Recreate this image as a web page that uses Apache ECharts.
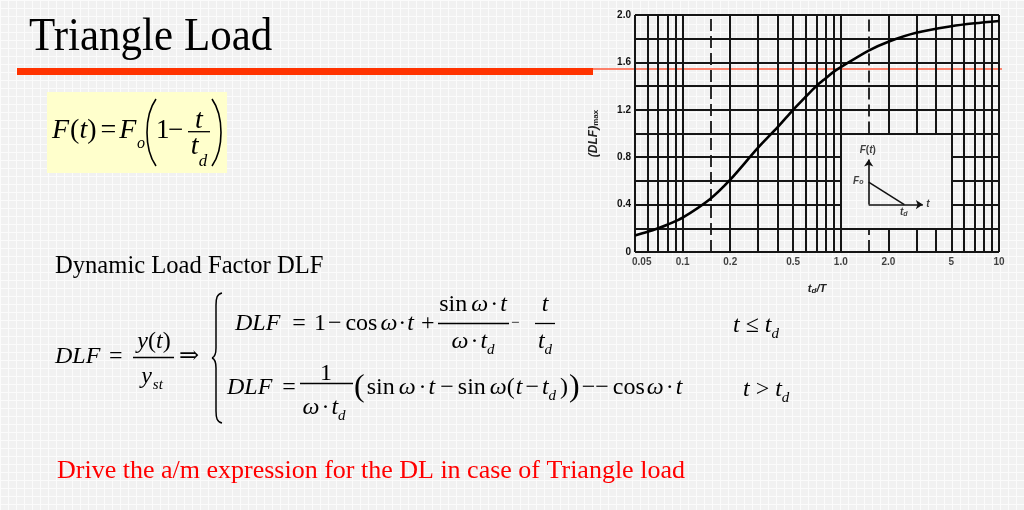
<!DOCTYPE html>
<html><head><meta charset="utf-8">
<script src="https://cdn.jsdelivr.net/npm/echarts@6/dist/echarts.min.js"></script>
<style>
html,body{margin:0;padding:0;}
body{width:1024px;height:510px;overflow:hidden;background-color:#f1f1f1;
background-image:linear-gradient(#fbfbfb 1px,transparent 1px),linear-gradient(90deg,#fbfbfb 1px,transparent 1px);background-size:8px 8px;}
#c{width:1024px;height:510px;}
</style></head><body><div id="c"></div>
<script>
// ---------- data ----------
const tdOverT = [0.05,0.06,0.07,0.08,0.1,0.15,0.2,0.3,0.4,0.5,0.6,0.7,0.8,0.9,1.0,1.5,2,3,5,7,10];
const dlfMax  = [0.14,0.17,0.20,0.23,0.29,0.45,0.61,0.88,1.055,1.20,1.31,1.40,1.465,1.52,1.56,1.70,1.775,1.85,1.905,1.93,1.95];
const xTickValues = [0.05,0.1,0.2,0.5,1,2,5,10];
const xTickLabels = ['0.05','0.1','0.2','0.5','1.0','2.0','5','10'];
const yTickValues = [0,0.4,0.8,1.2,1.6,2.0];
const yTickLabels = ['0','0.4','0.8','1.2','1.6','2.0'];
const gridLinesX = [0.05,0.06,0.07,0.08,0.09,0.1,0.2,0.3,0.4,0.5,0.6,0.7,0.8,0.9,1,2,3,4,5,6,7,8,9,10];
const dashedLinesX = [0.15,1.5];
const gridLinesY = [0,0.2,0.4,0.6,0.8,1.0,1.2,1.4,1.6,1.8,2.0];
const insetBox = {x0:1, x1:5, y0:0.2, y1:1.0};
const insetAxes = [[[1.5,0.4],[1.5,0.78]],[[1.5,0.4],[3.3,0.4]]];
const insetLoad = [[1.5,0.59],[2.52,0.4]];
const insetLabelText = ['{i|F}{r|(}{i|t}{r|)}','{i|F}{s|o}','{i|t}','{i|t}{s|d}'];
const insetLabelPos = [[1.48,0.86],[1.29,0.6],[3.55,0.4],[2.5,0.335]];
const X_MIN = 0.05, X_MAX = 10, Y_MIN = 0, Y_MAX = 2;

// ---------- slide text layout helpers ----------
const SERIF = '"Liberation Serif","Times New Roman","DejaVu Serif",serif';
const mctx = document.createElement('canvas').getContext('2d');
function fnt(kind, size){
  const it = (kind==='i'||kind==='s');
  const sz = kind==='s' ? Math.round(size*0.62) : kind==='L' ? Math.round(size*1.35) : size;
  return (it?'italic ':'') + sz + 'px ' + SERIF;
}
const G = [];
function put(tokens, x, y, size, opt){
  opt = opt||{};
  let w = 0; const items = [];
  tokens.forEach(tk => {
    if (typeof tk === 'number'){ w += tk; return; }
    const t = tk[0], kind = tk[1]; const css = fnt(kind, size);
    mctx.font = css; const tw = mctx.measureText(t).width;
    items.push({t, dx:w, dy: kind==='s' ? (opt.subDy!=null ? opt.subDy : size*0.34) : 0, css});
    w += tw;
  });
  const x0 = opt.align==='center' ? x - w/2 : x;
  items.forEach(it => G.push({type:'text', x:x0+it.dx, y:y+it.dy, z:2, silent:true, scaleY:opt.scaleY||1,
    style:{text:it.t, font:it.css, fill:opt.color||'#000', textAlign:'left', textVerticalAlign:'middle'}}));
}
function bar(x1,x2,y){ G.push({type:'line', z:2, silent:true, shape:{x1,y1:y,x2,y2:y}, style:{stroke:'#000', lineWidth:1.3}}); }
function seg(x1,y1,x2,y2,w){ G.push({type:'line', z:2, silent:true, shape:{x1,y1,x2,y2}, style:{stroke:'#000', lineWidth:w||1.6}}); }
function curve(x1,y1,c1x,c1y,c2x,c2y,x2,y2,w){ G.push({type:'bezierCurve', z:2, silent:true,
  shape:{x1,y1,cpx1:c1x,cpy1:c1y,cpx2:c2x,cpy2:c2y,x2,y2}, style:{stroke:'#000', lineWidth:w||1.6, fill:null}}); }

// title + red rule
put([['Triangle Load','r']], 29, 38.3, 43, {scaleY:1.06});
G.push({type:'rect', z:0, silent:true, shape:{x:17,y:68,width:576,height:7}, style:{fill:'#ff3300'}});
G.push({type:'line', z:0, silent:true, shape:{x1:593,y1:69,x2:999,y2:69}, style:{stroke:'#ff5a3c', lineWidth:1.4}});
G.push({type:'line', z:0, silent:true, shape:{x1:999,y1:69,x2:1004,y2:69}, style:{stroke:'#ff5a3c', lineWidth:1.4, lineDash:[3,2]}});

// F(t) box
G.push({type:'rect', z:1, silent:true, shape:{x:47,y:92,width:180,height:81}, style:{fill:'#ffffcc'}});
put([['F','i'],1,['(','r'],['t','i'],[')','r'],4,['=','r'],3,['F','i']], 52, 131, 28);
put([['o','i']], 137, 143.5, 16);
curve(156,99, 144,116, 144,149, 156,166);
put([['1','r']], 156, 131, 27);
put([['−','r']], 168, 131, 27);
bar(188,210,131.7);
put([['t','i']], 199, 120.5, 28, {align:'center'});
put([['t','i'],['d','s']], 199, 147, 28, {align:'center', subDy:15});
curve(212,99, 224,116, 224,149, 212,166);

// Dynamic Load Factor
put([['Dynamic Load Factor DLF','r']], 55, 266.5, 24.6);
put([['DLF','i']], 55, 357, 24);
put([['=','r']], 109, 357, 24);
bar(133,174,357.5);
put([['y','i'],['(','r'],['t','i'],[')','r']], 154, 342, 24, {align:'center'});
put([['y','i'],1,['st','s']], 152, 377, 24, {align:'center', subDy:8});
put([['⇒','r']], 179, 357, 24);
// curly brace
curve(222,293, 217,294, 216,298, 216,305, 1.5);
seg(216,305,216,348,1.5);
curve(216,348, 216,354, 215,357, 212,358, 1.5);
curve(212,358, 215,359, 216,362, 216,368, 1.5);
seg(216,368,216,411,1.5);
curve(216,411, 216,418, 217,422, 222,423, 1.5);

// line 1
put([['DLF','i'],12,['=','r'],8,['1','r'],2,['−','r'],4,['cos','r'],3,['ω','i'],1,['·','r'],1,['t','i'],7,['+','r']], 235, 323.5, 24);
bar(438,509,323.5);
put([['sin','r'],4,['ω','i'],2,['·','r'],2,['t','i']], 473, 305, 24, {align:'center'});
put([['ω','i'],2,['·','r'],2,['t','i'],['d','s']], 473, 342, 24, {align:'center'});
put([['−','r']], 511, 323.5, 15);
bar(535,555,323.5);
put([['t','i']], 545, 305, 24, {align:'center'});
put([['t','i'],['d','s']], 545, 342, 24, {align:'center'});
put([['t','i'],6,['≤','r'],6,['t','i'],['d','s']], 733, 326, 24);

// line 2
put([['DLF','i'],10,['=','r']], 227, 388, 24);
bar(300,353,383.5);
put([['1','r']], 326, 373.5, 24, {align:'center'});
put([['ω','i'],2,['·','r'],2,['t','i'],['d','s']], 324, 408, 24, {align:'center'});
put([['(','L'],2,['sin','r'],4,['ω','i'],3,['·','r'],2,['t','i'],5,['−','r'],4,['sin','r'],4,['ω','i'],['(','r'],1,['t','i'],3,['−','r'],3,['t','i'],['d','s'],4,[')','r'],1,[')','L'],2,['−','r'],0,['−','r'],4,['cos','r'],2,['ω','i'],2,['·','r'],2,['t','i']], 354, 388, 24);
put([['t','i'],6,['>','r'],6,['t','i'],['d','s']], 743, 390, 24);

// red task
put([['Drive the a/m expression for the DL in case of Triangle load','r']], 57, 471, 26, {color:'#ff0000'});

// ---------- chart ----------
function vSeg(x){ return (x>insetBox.x0 && x<insetBox.x1) ? [[Y_MIN,insetBox.y0],[insetBox.y1,Y_MAX]] : [[Y_MIN,Y_MAX]]; }
function hSeg(y){ return (y>insetBox.y0 && y<insetBox.y1) ? [[X_MIN,insetBox.x0],[insetBox.x1,X_MAX]] : [[X_MIN,X_MAX]]; }
const gridData = [];
gridLinesX.forEach(x => vSeg(x).forEach(s => gridData.push([{coord:[x,s[0]]},{coord:[x,s[1]]}])));
gridLinesY.forEach(y => hSeg(y).forEach(s => gridData.push([{coord:[s[0],y]},{coord:[s[1],y]}])));
const dashData = [];
dashedLinesX.forEach(x => vSeg(x).forEach(s => dashData.push([{coord:[x,s[0]]},{coord:[x,s[1]]}])));

const SANS = '"Liberation Sans", Arial, sans-serif';
const chart = echarts.init(document.getElementById('c'), null, {renderer:'canvas', width:1024, height:510});
chart.setOption({
  animation:false,
  backgroundColor:'transparent',
  grid:{left:635, top:15, width:364, height:237},
  xAxis:{type:'log', logBase:10, min:X_MIN, max:X_MAX,
    axisLine:{show:false}, axisTick:{show:false}, splitLine:{show:false}, axisLabel:{show:false},
    name:'{a|t}{b|d}{a|/T}', nameLocation:'middle', nameGap:31,
    nameTextStyle:{rich:{a:{fontStyle:'italic',fontWeight:'bold',fontSize:11,fontFamily:SANS,color:'#222'},
                         b:{fontStyle:'italic',fontWeight:'bold',fontSize:8,fontFamily:SANS,color:'#222',verticalAlign:'bottom',padding:[4,0,0,0]}}}},
  yAxis:{type:'value', min:Y_MIN, max:Y_MAX, interval:0.2,
    axisLine:{show:false}, axisTick:{show:false}, splitLine:{show:false},
    axisLabel:{margin:4, fontSize:10, fontWeight:'bold', fontFamily:SANS, color:'#111',
      formatter:v => { const i = yTickValues.findIndex(t => Math.abs(t-v)<1e-6); return i>=0 ? yTickLabels[i] : ''; }},
    name:'{a|(DLF)}{b|max}', nameLocation:'middle', nameGap:35, nameRotate:90,
    nameTextStyle:{rich:{a:{fontStyle:'italic',fontWeight:'bold',fontSize:12,fontFamily:SANS,color:'#222'},
                         b:{fontWeight:'bold',fontSize:8,fontFamily:SANS,color:'#222',verticalAlign:'bottom',padding:[5,0,0,0]}}}},
  graphic:{elements:G},
  series:[
    {name:'grid', type:'line', data:[], silent:true,
     markLine:{silent:true, symbol:['none','none'], label:{show:false}, animation:false,
       lineStyle:{color:'#151515', width:2, type:'solid'}, emphasis:{disabled:true}, data:gridData}},
    {name:'dashed', type:'line', data:[], silent:true,
     markLine:{silent:true, symbol:['none','none'], label:{show:false}, animation:false,
       lineStyle:{color:'#151515', width:1.8, type:[12,5]}, emphasis:{disabled:true}, data:dashData}},
    {name:'inset', type:'line', data:[], silent:true,
     markLine:{silent:true, symbol:['none','arrow'], symbolSize:7, label:{show:false}, animation:false,
       lineStyle:{color:'#111', width:1.6, type:'solid'}, emphasis:{disabled:true},
       data:[
         [{coord:insetAxes[0][0]},{coord:insetAxes[0][1]}],
         [{coord:insetAxes[1][0]},{coord:insetAxes[1][1]}],
         [{coord:insetLoad[0], symbol:'none'},{coord:insetLoad[1], symbol:'none'}]
       ]}},
    {name:'insetLabels', type:'scatter', silent:true, symbolSize:1, itemStyle:{color:'transparent'},
     data:insetLabelPos.map((p,i)=>({value:p, name:insetLabelText[i]})),
     label:{show:true, position:'inside', formatter:p=>p.name,
       rich:{i:{fontStyle:'italic',fontWeight:'bold',fontSize:10,fontFamily:SANS,color:'#111'},
             r:{fontWeight:'bold',fontSize:10,fontFamily:SANS,color:'#111'},
             s:{fontStyle:'italic',fontWeight:'bold',fontSize:7,fontFamily:SANS,color:'#111',verticalAlign:'bottom',padding:[3,0,0,0]}}}},
    {name:'xTicks', type:'scatter', silent:true, symbolSize:1, itemStyle:{color:'transparent'},
     data:xTickValues.map((v,i)=>({value:[v,Y_MIN], label: i===0 ? {align:'left', offset:[-3,0]} : {}})),
     label:{show:true, position:'bottom', distance:5, fontSize:10, fontWeight:'bold', fontFamily:SANS, color:'#111',
       formatter:p=>xTickLabels[p.dataIndex]}},
    {name:'DLFmax', type:'line', z:10, smooth:0.3, symbol:'none', silent:true,
     lineStyle:{color:'#000', width:2.6},
     data:tdOverT.map((x,i)=>[x, dlfMax[i]])}
  ]
});
</script></body></html>
